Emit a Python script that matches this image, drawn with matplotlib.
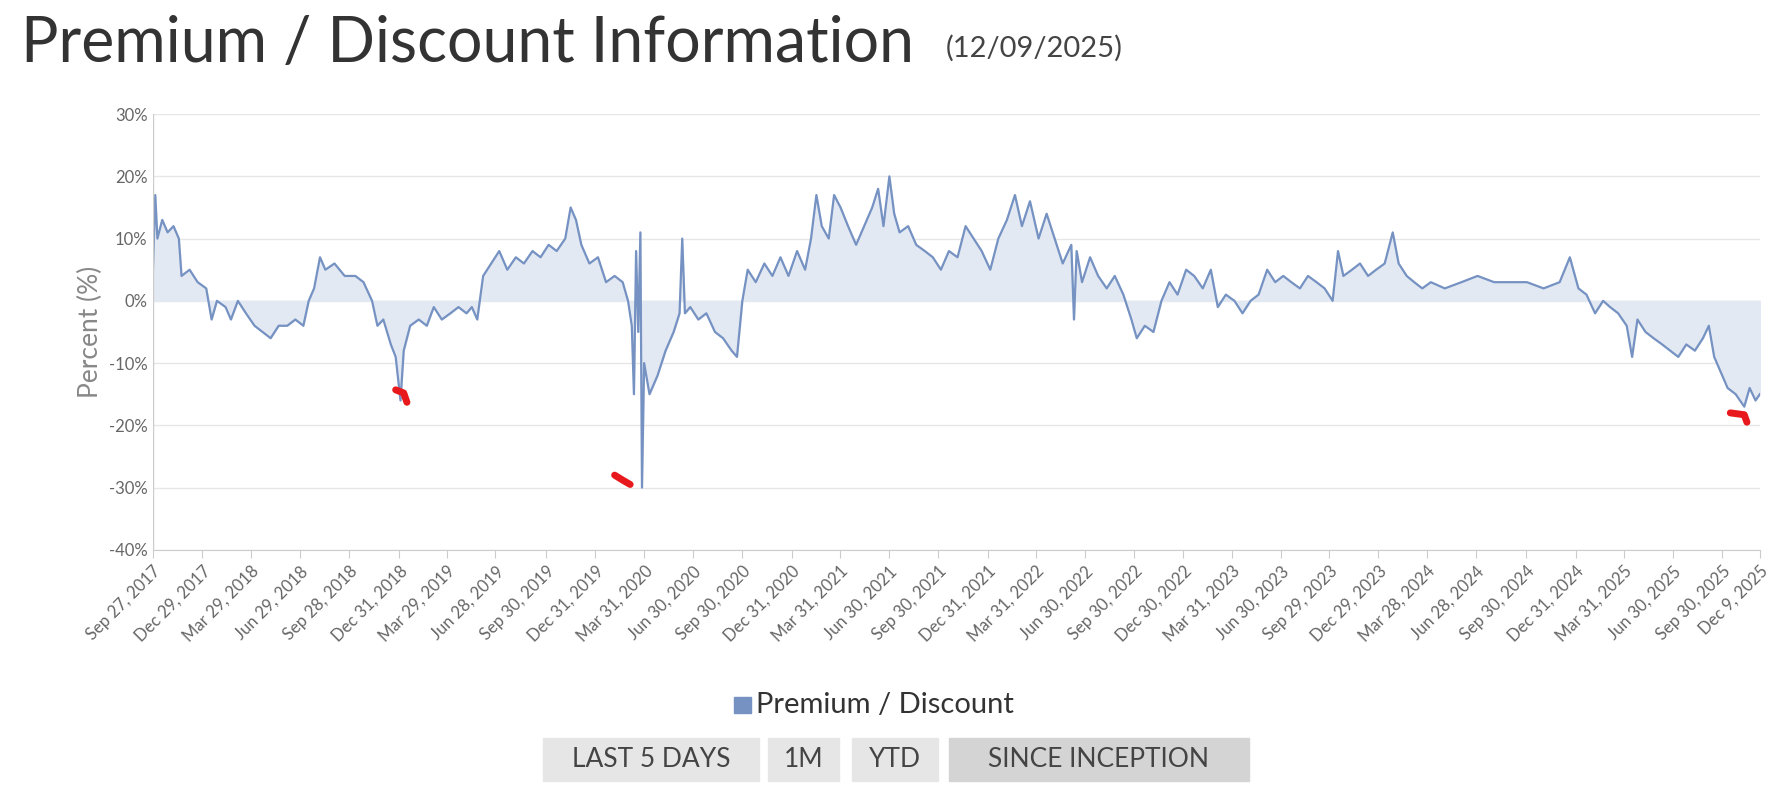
import matplotlib
matplotlib.use("Agg")
import matplotlib.pyplot as plt
import pandas as pd

plt.rcParams['font.family'] = ['Lato', 'DejaVu Sans']

dates = ["2017-09-27","2017-10-02","2017-10-06","2017-10-15","2017-10-25","2017-11-05","2017-11-15","2017-11-20",
 "2017-12-05","2017-12-20","2018-01-05","2018-01-15","2018-01-25","2018-02-10","2018-02-20","2018-03-05",
 "2018-03-20","2018-04-05","2018-04-20","2018-05-05","2018-05-20","2018-06-05","2018-06-20","2018-07-05",
 "2018-07-15","2018-07-25","2018-08-05","2018-08-15","2018-09-01","2018-09-20","2018-10-10","2018-10-25",
 "2018-11-10","2018-11-20","2018-12-01","2018-12-15","2018-12-24","2019-01-02","2019-01-08","2019-01-20",
 "2019-02-05","2019-02-20","2019-03-05","2019-03-20","2019-04-05","2019-04-20","2019-05-05","2019-05-15",
 "2019-05-25","2019-06-05","2019-06-20","2019-07-05","2019-07-20","2019-08-05","2019-08-20","2019-09-05",
 "2019-09-20","2019-10-05","2019-10-20","2019-11-05","2019-11-15","2019-11-25","2019-12-05","2019-12-20",
 "2020-01-05","2020-01-20","2020-02-05","2020-02-20","2020-03-01","2020-03-08","2020-03-12","2020-03-16",
 "2020-03-20","2020-03-24","2020-03-27","2020-03-31","2020-04-10","2020-04-25","2020-05-10","2020-05-25",
 "2020-06-05","2020-06-10","2020-06-15","2020-06-25","2020-07-10","2020-07-25","2020-08-10","2020-08-25",
 "2020-09-10","2020-09-20","2020-09-30","2020-10-10","2020-10-25","2020-11-10","2020-11-25","2020-12-10",
 "2020-12-25","2021-01-10","2021-01-25","2021-02-05","2021-02-15","2021-02-25","2021-03-10","2021-03-20",
 "2021-04-01","2021-04-15","2021-04-30","2021-05-15","2021-05-30","2021-06-10","2021-06-20","2021-07-01",
 "2021-07-10","2021-07-20","2021-08-05","2021-08-20","2021-09-05","2021-09-20","2021-10-05","2021-10-20",
 "2021-11-05","2021-11-20","2021-12-05","2021-12-20","2022-01-05","2022-01-20","2022-02-05","2022-02-20",
 "2022-03-05","2022-03-20","2022-04-05","2022-04-20","2022-05-05","2022-05-20","2022-06-05","2022-06-10",
 "2022-06-15","2022-06-25","2022-07-10","2022-07-25","2022-08-10","2022-08-25","2022-09-10","2022-09-25",
 "2022-10-05","2022-10-20","2022-11-05","2022-11-20","2022-12-05","2022-12-20","2023-01-05","2023-01-20",
 "2023-02-05","2023-02-20","2023-03-05","2023-03-20","2023-04-05","2023-04-20","2023-05-05","2023-05-20",
 "2023-06-05","2023-06-20","2023-07-05","2023-07-20","2023-08-05","2023-08-20","2023-09-05","2023-09-20",
 "2023-10-05","2023-10-15","2023-10-25","2023-11-10","2023-11-25","2023-12-10","2023-12-25","2024-01-10",
 "2024-01-25","2024-02-05","2024-02-20","2024-03-05","2024-03-20","2024-04-05","2024-05-01","2024-06-01",
 "2024-07-01","2024-08-01","2024-09-01","2024-10-01","2024-11-01","2024-12-01","2024-12-20","2025-01-05",
 "2025-01-20","2025-02-05","2025-02-20","2025-03-05","2025-03-20","2025-04-05","2025-04-15","2025-04-25",
 "2025-05-10","2025-05-25","2025-06-10","2025-06-25","2025-07-10","2025-07-25","2025-08-10","2025-08-25",
 "2025-09-05","2025-09-15","2025-09-30","2025-10-10","2025-10-25","2025-11-10","2025-11-20","2025-12-01",
 "2025-12-09"]
values = [3,17,10,13,11,12,10,4,
 5,3,2,-3,0,-1,-3,0,
 -2,-4,-5,-6,-4,-4,-3,-4,
 0,2,7,5,6,4,4,3,
 0,-4,-3,-7,-9,-16,-8,-4,
 -3,-4,-1,-3,-2,-1,-2,-1,
 -3,4,6,8,5,7,6,8,
 7,9,8,10,15,13,9,6,
 7,3,4,3,0,-4,-15,8,
 -5,11,-30,-10,-15,-12,-8,-5,
 -2,10,-2,-1,-3,-2,-5,-6,
 -8,-9,0,5,3,6,4,7,
 4,8,5,10,17,12,10,17,
 15,12,9,12,15,18,12,20,
 14,11,12,9,8,7,5,8,
 7,12,10,8,5,10,13,17,
 12,16,10,14,10,6,9,-3,
 8,3,7,4,2,4,1,-3,
 -6,-4,-5,0,3,1,5,4,
 2,5,-1,1,0,-2,0,1,
 5,3,4,3,2,4,3,2,
 0,8,4,5,6,4,5,6,
 11,6,4,3,2,3,2,3,
 4,3,3,3,2,3,7,2,
 1,-2,0,-1,-2,-4,-9,-3,
 -5,-6,-7,-8,-9,-7,-8,-6,
 -4,-9,-12,-14,-15,-17,-14,-16,
 -15]

tick_dates = ["2017-09-27","2017-12-29","2018-03-29","2018-06-29","2018-09-28","2018-12-31","2019-03-29",
 "2019-06-28","2019-09-30","2019-12-31","2020-03-31","2020-06-30","2020-09-30","2020-12-31","2021-03-31",
 "2021-06-30","2021-09-30","2021-12-31","2022-03-31","2022-06-30","2022-09-30","2022-12-30","2023-03-31",
 "2023-06-30","2023-09-29","2023-12-29","2024-03-28","2024-06-28","2024-09-30","2024-12-31","2025-03-31",
 "2025-06-30","2025-09-30","2025-12-09"]
buttons = ["LAST 5 DAYS", "1M", "YTD", "SINCE INCEPTION"]

x = pd.to_datetime(dates)
ticks = pd.to_datetime(tick_dates)
line_color = "#7592c2"

fig = plt.figure(figsize=(17.74, 7.98), dpi=100)
ax = fig.add_axes([0.086, 0.311, 0.906, 0.546])
ax.fill_between(x, values, 0, color="#e3e9f3")
ax.plot(x, values, color=line_color, lw=1.6)
ax.set_xlim(x[0], x[-1])
ax.set_ylim(-40, 30)
ax.set_yticks(range(-40, 31, 10))
ax.set_yticklabels([f"{v}%" for v in range(-40, 31, 10)])
ax.set_xticks(ticks)
ax.set_xticklabels([t.strftime("%b %-d, %Y") for t in ticks], rotation=45, ha="right",
                   rotation_mode="anchor")
ax.grid(axis="y", color="#e6e6e6", lw=1)
for s in ["top", "right", "left"]:
    ax.spines[s].set_visible(False)
ax.spines["bottom"].set_color("#cccccc")
ax.axvline(x[0], color="#cccccc", lw=1)
ax.tick_params(axis="both", colors="#666666", labelsize=12, length=0)
ax.tick_params(axis="x", length=6, color="#cccccc")
ax.set_ylabel("Percent (%)", color="#888888", fontsize=19)
ax.set_axisbelow(True)

# red hand-drawn marks
marks = [(["2018-12-24", "2019-01-08", "2019-01-14"], [-14.3, -14.8, -16.3]),
         (["2020-02-05", "2020-02-20", "2020-03-05"], [-28, -28.8, -29.5]),
         (["2025-10-15", "2025-11-10", "2025-11-15"], [-18, -18.3, -19.5])]
for md, mv in marks:
    ax.plot(pd.to_datetime(md), mv, color="#e8191c", lw=5, solid_capstyle="round")

fig.text(0.012, 0.945, "Premium / Discount Information", fontsize=45,
         color="#333333", va="center")
fig.text(0.533, 0.94, "(12/09/2025)", fontsize=21, color="#444444", va="center")

fig.patches.append(plt.Rectangle((0.414, 0.106), 0.0095, 0.021, transform=fig.transFigure,
                                 color=line_color))
fig.text(0.426, 0.117, "Premium / Discount", fontsize=21, color="#333333", va="center")

bx = [0.306, 0.433, 0.480, 0.535]
bw = [0.122, 0.040, 0.049, 0.169]
for b, xx, w in zip(buttons, bx, bw):
    fc = "#d4d4d4" if b == "SINCE INCEPTION" else "#e6e6e6"
    fig.patches.append(plt.Rectangle((xx, 0.021), w, 0.054, transform=fig.transFigure, color=fc))
    fig.text(xx + w / 2, 0.048, b, fontsize=19, color="#444444", ha="center", va="center")

fig.savefig("out.png")
